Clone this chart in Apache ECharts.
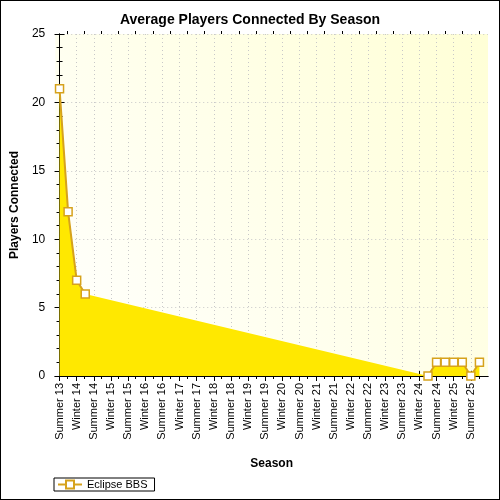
<!DOCTYPE html>
<html>
<head>
<meta charset="utf-8">
<script src="https://cdn.jsdelivr.net/npm/echarts@6/dist/echarts.min.js"></script>
<style>
    html, body { margin: 0; padding: 0; background: #fff; }
    #chart { width: 498px; height: 498px; border: 1px solid #000; }
</style>
</head>
<body>
<div id="chart"></div>
<script>
// x positions are half-season steps: label k sits at step 2k
const seasonLabels = [
    'Summer 13', 'Winter 14', 'Summer 14', 'Winter 15', 'Summer 15',
    'Winter 16', 'Summer 16', 'Winter 17', 'Summer 17', 'Winter 18',
    'Summer 18', 'Winter 19', 'Summer 19', 'Winter 20', 'Summer 20',
    'Winter 21', 'Summer 21', 'Winter 22', 'Summer 22', 'Winter 23',
    'Summer 23', 'Winter 24', 'Summer 24', 'Winter 25', 'Summer 25',
]
const sampleSteps = [0, 1, 2, 3, 43, 44, 45, 46, 47, 48, 49]
const players = [21, 12, 7, 6, 0, 1, 1, 1, 1, 0, 1]
const yTicks = [0, 5, 10, 15, 20, 25]

const FONT = 'Liberation Sans'
const lineColor = '#D6A21C'

const labelSteps = seasonLabels.map((s, i) => i * 2)
const minorSteps = seasonLabels.map((s, i) => i * 2 + 1)

const areaData = sampleSteps.map((x, i) => [x, players[i]])
// the stroke only joins neighbouring samples, so break it over the gap
const lineData = []
sampleSteps.forEach((x, i) => {
    if (i > 0 && x - sampleSteps[i - 1] > 1) lineData.push([(x + sampleSteps[i - 1]) / 2, '-'])
    lineData.push([x, players[i]])
})

const dotted = { show: true, lineStyle: { color: '#C8C8C8', type: [1, 3], width: 1 } }
const blackLine = { show: true, lineStyle: { color: '#000', width: 1 } }

let myChart = echarts.init(document.querySelector('#chart'))
let option = {
    animation: false,
    title: {
        text: 'Average Players Connected By Season',
        left: 'center',
        top: 7,
        textStyle: { fontFamily: FONT, fontSize: 14, fontWeight: 'bold', color: '#000' },
    },
    legend: {
        left: 53,
        top: 477,
        padding: [1, 7, 1, 3],
        borderColor: '#000',
        borderWidth: 1,
        itemWidth: 24,
        itemHeight: 10,
        itemGap: 6,
        data: ['Eclipse BBS'],
        textStyle: { fontFamily: FONT, fontSize: 11, color: '#000' },
    },
    grid: [
        {
            left: 53, top: 33, right: 11, bottom: 123,
            show: true,
            borderWidth: 0,
            backgroundColor: new echarts.graphic.LinearGradient(0, 1, 1, 0, [
                { offset: 0, color: '#FFFFFF' },
                { offset: 1, color: '#FFFFD6' },
            ]),
        },
        { left: 53, top: 33, right: 11, bottom: 123 },
    ],
    xAxis: [
        {
            type: 'value', gridIndex: 0, position: 'bottom',
            min: -0.5, max: 50,
            name: 'Season', nameLocation: 'middle', nameGap: 82,
            nameTextStyle: { fontFamily: FONT, fontSize: 12, fontWeight: 'bold', color: '#000' },
            axisLine: blackLine,
            axisTick: { show: true, length: 5, customValues: labelSteps, lineStyle: { color: '#000' } },
            axisLabel: {
                customValues: labelSteps,
                formatter: (v) => seasonLabels[Math.round(v / 2)],
                rotate: 90, margin: 7,
                fontFamily: FONT, fontSize: 11, color: '#000',
            },
            splitLine: dotted,
        },
        {
            type: 'value', gridIndex: 0, position: 'top',
            min: -0.5, max: 50,
            axisLine: blackLine,
            axisTick: { show: true, length: 5, customValues: labelSteps, lineStyle: { color: '#000' } },
            axisLabel: { show: false },
            splitLine: { show: false },
        },
        {
            type: 'value', gridIndex: 1, position: 'bottom',
            min: -0.5, max: 50,
            axisLine: { show: false },
            axisTick: { show: true, length: 3, customValues: minorSteps, lineStyle: { color: '#000' } },
            axisLabel: { show: false },
            splitLine: { show: false },
        },
        {
            type: 'value', gridIndex: 1, position: 'top',
            min: -0.5, max: 50,
            axisLine: { show: false },
            axisTick: { show: true, length: 3, customValues: minorSteps, lineStyle: { color: '#000' } },
            axisLabel: { show: false },
            splitLine: { show: false },
        },
    ],
    yAxis: [
        {
            type: 'value', gridIndex: 0, position: 'left',
            min: yTicks[0], max: yTicks[yTicks.length - 1], interval: 5,
            name: 'Players Connected', nameLocation: 'middle', nameGap: 33,
            nameTextStyle: { fontFamily: FONT, fontSize: 12, fontWeight: 'bold', color: '#000' },
            axisLine: blackLine,
            axisTick: { show: true, length: 5, lineStyle: { color: '#000' } },
            minorTick: { show: true, splitNumber: 5, length: 3, lineStyle: { color: '#000' } },
            axisLabel: { margin: 10, fontFamily: FONT, fontSize: 12, color: '#000' },
            splitLine: dotted,
        },
        {
            type: 'value', gridIndex: 0, position: 'right',
            min: yTicks[0], max: yTicks[yTicks.length - 1], interval: 5,
            axisLine: blackLine,
            axisTick: { show: true, length: 5, lineStyle: { color: '#000' } },
            minorTick: { show: true, splitNumber: 5, length: 3, lineStyle: { color: '#000' } },
            axisLabel: { show: false },
            splitLine: { show: false },
        },
        { type: 'value', gridIndex: 1, min: 0, max: 25, show: false },
    ],
    series: [
        {
            name: 'fill',
            type: 'line',
            xAxisIndex: 0, yAxisIndex: 0,
            data: areaData,
            showSymbol: false,
            lineStyle: { width: 0 },
            areaStyle: { color: '#FFE800', opacity: 1 },
            itemStyle: { color: '#FFE800' },
            z: 2,
        },
        {
            name: 'Eclipse BBS',
            type: 'line',
            xAxisIndex: 0, yAxisIndex: 0,
            data: lineData,
            connectNulls: false,
            symbol: 'rect',
            symbolSize: 8,
            itemStyle: { color: '#fff', borderColor: lineColor, borderWidth: 1.5 },
            lineStyle: { color: lineColor, width: 2 },
            z: 3,
        },
    ],
}
myChart.setOption(option)
</script>
</body>
</html>
